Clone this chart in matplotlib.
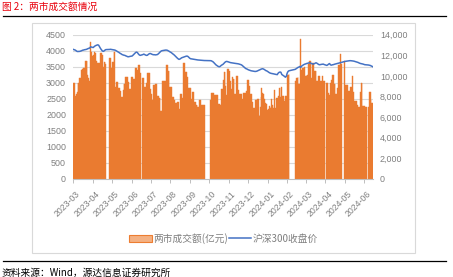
import numpy as np
import pandas as pd
import matplotlib
matplotlib.use("Agg")
import matplotlib.pyplot as plt
from matplotlib.patches import Rectangle
from matplotlib.lines import Line2D
from matplotlib.ticker import FuncFormatter
from matplotlib.transforms import ScaledTranslation

plt.rcParams['font.family'] = ['Noto Sans CJK SC', 'DejaVu Sans']

# ---------------- data ----------------
title = "图 2：两市成交额情况"
source = "资料来源：Wind，源达信息证券研究所"
bar_label = "两市成交额(亿元)"
line_label = "沪深300收盘价"
month_labels = ["2023-03", "2023-04", "2023-05", "2023-06", "2023-07", "2023-08",
                "2023-09", "2023-10", "2023-11", "2023-12", "2024-01", "2024-02",
                "2024-03", "2024-04", "2024-05", "2024-06"]
start_date, end_date = "2023-03-08", "2024-06-18"
skipped_days = ["2023-04-05", "2024-01-01"]
holidays = ["2023-05-01", "2023-05-02", "2023-05-03", "2023-06-22", "2023-06-23",
            "2023-09-29", "2023-10-02", "2023-10-03", "2023-10-04", "2023-10-05",
            "2023-10-06", "2024-02-09", "2024-02-12", "2024-02-13", "2024-02-14",
            "2024-02-15", "2024-02-16", "2024-04-04", "2024-04-05", "2024-05-01",
            "2024-05-02", "2024-05-03", "2024-06-10"]

# 两市成交额 (亿元), one value per trading day
turnover = [
    # 2023-03
    9340, 9340, 8080, 8200, 8470, 9340, 9340, 9800, 9800, 10570, 10640, 10800, 10800, 11410, 11480, 11400, 10090, 9800,
    # 2023-04
    9540, 13290, 12300, 11930, 12000, 12320, 12200, 11440, 11440, 11220, 11300, 11250, 12220, 12220, 12000, 10900, 11350, 11350, 11200,
    # 2023-05
    11740, 11740, 10730, 11350, 11350, 12290, 12290, 8890, 9410, 9410, 8830, 8830, 8570, 7990, 7990, 8630, 9210, 9210, 9930, 9930,
    # 2023-06
    9930, 9410, 8760, 8760, 9930, 9930, 9670, 9670, 9670, 10770, 10770, 10570, 11090, 11090, 10310,
    9800, 9800, 8960, 8960, 9280,
    # 2023-07
    10310, 10310, 10310, 8760, 8240, 8240, 7660, 9150, 9150, 9210, 9210, 8050, 8050, 7860, 7860, 6630, 6630, 9500, 9500, 9500, 9500,
    # 2023-08
    11060, 11060, 10470, 10470, 8960, 8960, 8960, 7950, 7950, 7660, 7400, 7400, 7500, 7500, 6820, 6820, 8240, 8240, 7860, 11280, 11280, 10380, 10380,
    # 2023-09
    9930, 7530, 8830, 8830, 8830, 7730, 8440, 8440, 7470, 7470, 7150, 7150, 7020, 7020, 7660, 7660, 7210, 7210, 7210, 7210,
    # 2023-10
    7660, 8370, 8370, 8370, 8150, 8150, 8150, 8150, 8150, 7310, 7310, 7150, 8760, 8760, 9600, 10410, 10410,
    # 2023-11
    9000, 8160, 10690, 10690, 10430, 9525, 8750, 9850, 9720, 9720, 8230, 8230, 9950, 9950, 8650, 8230, 8230, 8230, 7780, 7780, 8330, 8330,
    # 2023-12
    8330, 8490, 9590, 9590, 9070, 8230, 8230, 7450, 7450, 6870, 6870, 7710, 7710, 7750, 7750, 6130, 7000, 8000, 8820, 8310, 8230,
    # 2024-01
    7790, 7340, 7260, 6690, 6800, 7080, 6950, 6870, 7730, 7200, 6890, 8640, 6870, 7900, 7900, 8100, 8810, 8810, 8000, 8880, 8040, 8040,
    # 2024-02
    7580, 8040, 8040, 10110, 10110, 10170,
    9530, 9780, 9780, 9850, 9200, 9200, 13540, 10590, 10760,
    # 2024-03
    10760, 10820, 10040, 10040, 10110, 10110, 11150, 11400, 11400, 9780, 11280, 11280, 10500, 10500, 10500, 9460, 9460, 10040, 10040, 9530, 9530,
    # 2024-04
    9980, 9460, 9460,
    9300, 9300, 8330, 8160, 9330, 9620, 10110, 10110, 9200, 9200, 8290, 8290, 8810, 11080, 11080, 12120, 11150,
    # 2024-05
    11470, 9140, 9140, 9140, 8490, 8490, 8880, 8880, 10010, 8420, 8420, 7580, 7580, 7580, 7190, 7000, 7000, 8420, 9300, 9300,
    # 2024-06
    7130, 7130, 7130, 6950, 6950,
    7000, 8440, 8440, 7700, 7400, 7400,
]

# 沪深300收盘价, one value per trading day
hs300 = [
    # 2023-03
    4040, 4030, 4020, 4000, 3980, 3975, 3980, 3980, 3990, 4000, 4015, 4020, 4030, 4035, 4040, 4050, 4065, 4075,
    # 2023-04
    4085, 4120, 4115, 4105, 4100, 4130, 4150, 4165, 4175, 4185, 4170, 4120, 4070, 4030, 3995, 3980, 3995, 4020, 4035,
    # 2023-05
    4040, 4045, 4040, 4035, 4030, 4025, 4020, 4005, 3990, 3970, 3955, 3935, 3915, 3900, 3880, 3870, 3860, 3855, 3840, 3830,
    # 2023-06
    3815, 3812, 3820, 3825, 3830, 3835, 3860, 3890, 3920, 3945, 3958, 3940, 3900, 3870, 3855,
    3880, 3895, 3880, 3865, 3855,
    # 2023-07
    3860, 3885, 3905, 3915, 3905, 3890, 3880, 3875, 3875, 3870, 3875, 3880, 3900, 3930, 3960, 3985, 4000, 4005, 4010, 4015, 4020,
    # 2023-08
    4020, 4015, 4000, 3985, 3965, 3950, 3930, 3905, 3885, 3860, 3830, 3800, 3775, 3750, 3730, 3740, 3760, 3780, 3790, 3800, 3810, 3820, 3830,
    # 2023-09
    3833, 3820, 3790, 3765, 3750, 3745, 3740, 3735, 3729, 3725, 3720, 3715, 3712, 3710, 3708, 3705, 3702, 3700, 3698, 3695,
    # 2023-10
    3690, 3685, 3667, 3650, 3620, 3585, 3560, 3540, 3520, 3505, 3500, 3520, 3545, 3563, 3580, 3610, 3640,
    # 2023-11
    3660, 3667, 3660, 3650, 3640, 3630, 3625, 3620, 3615, 3610, 3607, 3604, 3600, 3595, 3590, 3580, 3570, 3563, 3545, 3520, 3495, 3470,
    # 2023-12
    3445, 3435, 3420, 3405, 3395, 3385, 3375, 3370, 3365, 3360, 3355, 3354, 3360, 3370, 3385, 3396, 3410, 3425, 3435, 3438, 3425,
    # 2024-01
    3410, 3385, 3375, 3360, 3340, 3320, 3305, 3295, 3290, 3285, 3278, 3270, 3265, 3260, 3255, 3300, 3325, 3335, 3330, 3260, 3240, 3220,
    # 2024-02
    3200, 3175, 3200, 3300, 3355, 3375,
    3420, 3440, 3460, 3480, 3490, 3510, 3480, 3520, 3540,
    # 2024-03
    3560, 3575, 3585, 3595, 3605, 3610, 3620, 3625, 3615, 3600, 3590, 3583, 3595, 3610, 3625, 3610, 3590, 3570, 3563, 3570, 3575,
    # 2024-04
    3580, 3583, 3570,
    3542, 3560, 3585, 3600, 3560, 3550, 3560, 3565, 3575, 3583, 3590, 3600, 3605, 3612, 3620, 3628, 3635,
    # 2024-05
    3667, 3670, 3675, 3680, 3684, 3688, 3690, 3688, 3684, 3680, 3675, 3667, 3660, 3650, 3640, 3630, 3615, 3604, 3598, 3592,
    # 2024-06
    3585, 3575, 3565, 3563, 3560,
    3555, 3550, 3542, 3530, 3515, 3500,
]

left_ticks = list(range(0, 4501, 500))
right_ticks = list(range(0, 14001, 2000))

# ---------------- styling ----------------
BAR = "#ea7b30"
LINE = "#4472c4"
GRID = "#d9d9d9"
TXT = "#7f7f7f"
W, H = 453, 277

def fx(x):
    return x / W

def fy(y):
    return 1 - y / H

slots = pd.bdate_range(start_date, end_date)
slots = slots[~slots.isin(pd.to_datetime(skipped_days))]
trade_idx = np.where(~slots.isin(pd.to_datetime(holidays)))[0]
assert len(trade_idx) == len(turnover) == len(hs300)
xpos = trade_idx + 0.5
n_slots = len(slots)

fig = plt.figure(figsize=(W / 100, H / 100), dpi=100)

# outer decorations
fig.add_artist(Line2D([fx(3), fx(446)], [fy(15.7), fy(15.7)], transform=fig.transFigure,
                      color="black", lw=0.9))
fig.add_artist(Line2D([fx(3), fx(446)], [fy(260.7), fy(260.7)], transform=fig.transFigure,
                      color="black", lw=0.9))
fig.add_artist(Rectangle((fx(32.3), fy(253.3)), fx(415) - fx(32.3), fy(23.3) - fy(253.3),
                         transform=fig.transFigure, fill=False, edgecolor=GRID, lw=0.8))
fig.text(fx(2), fy(6.5), title, color="#e8000b", fontsize=7, ha="left", va="center")
fig.text(fx(2), fy(272.5), source, color="black", fontsize=7, ha="left", va="center")

# main axes (bars, right scale) and twin (line, left scale)
ax = fig.add_axes([fx(73), fy(179), fx(373.3) - fx(73), fy(34.7) - fy(179)])
ax2 = ax.twinx()

for v in left_ticks[1:]:
    ax.axhline(v * right_ticks[-1] / left_ticks[-1], color=GRID, lw=0.8, zorder=0)
ax.bar(xpos, turnover, width=1.0, color=BAR, edgecolor=BAR, linewidth=0.3, zorder=2)
ax.set_xlim(0, n_slots)
ax.set_ylim(0, right_ticks[-1])
ax.yaxis.tick_right()
ax.yaxis.set_label_position("right")
ax.set_yticks(right_ticks)
ax.yaxis.set_major_formatter(FuncFormatter(lambda v, p: f"{v:,.0f}"))
ax.tick_params(axis="y", which="both", left=False, labelleft=False, right=False,
               labelright=True, length=0, pad=4.8, labelsize=6.4, labelcolor=TXT)
for lbl in ax.get_yticklabels():
    lbl.set_family("Liberation Sans")

month_starts = pd.date_range("2023-03-01", periods=len(month_labels), freq="MS")
days = np.asarray((month_starts - month_starts[0]).days, dtype=float)
tick_pos = days * (323.0 / days[-1])
ax.set_xticks(tick_pos)
ax.set_xticklabels(month_labels, rotation=45, ha="right", va="top",
                   rotation_mode="anchor", fontsize=6.3, color=TXT, family="Liberation Sans")
ax.tick_params(axis="x", length=3, width=0.7, color="#bfbfbf", pad=4.5)
offset = ScaledTranslation(2.5 / 100, 0, fig.dpi_scale_trans)
for lbl in ax.get_xticklabels():
    lbl.set_transform(lbl.get_transform() + offset)
for s in ["top", "left", "right"]:
    ax.spines[s].set_visible(False)
ax.spines["bottom"].set_color("#bfbfbf")
ax.spines["bottom"].set_linewidth(0.8)
ax.patch.set_visible(False)

ax2.plot(xpos, hs300, color=LINE, lw=1.1, zorder=3)
ax2.set_ylim(0, left_ticks[-1])
ax2.set_xlim(0, n_slots)
ax2.yaxis.tick_left()
ax2.set_yticks(left_ticks)
ax2.tick_params(axis="y", which="both", left=False, labelleft=True, right=False,
                labelright=False, length=0, pad=5, labelsize=6.4, labelcolor=TXT)
for lbl in ax2.get_yticklabels():
    lbl.set_family("Liberation Sans")
for s in ax2.spines.values():
    s.set_visible(False)

# legend (drawn manually)
fig.add_artist(Rectangle((fx(129.3), fy(242)), fx(151.7) - fx(129.3), fy(235.3) - fy(242),
                         transform=fig.transFigure, facecolor="#f4b183", edgecolor="#ed7d31", lw=0.8))
fig.text(fx(153.5), fy(238.5), bar_label, color=TXT, fontsize=7, ha="left", va="center")
fig.add_artist(Line2D([fx(229.3), fx(250.7)], [fy(238.3), fy(238.3)], transform=fig.transFigure,
                      color=LINE, lw=1.1))
fig.text(fx(253), fy(238.5), line_label, color=TXT, fontsize=7, ha="left", va="center")

fig.savefig("out.png", dpi=100)
